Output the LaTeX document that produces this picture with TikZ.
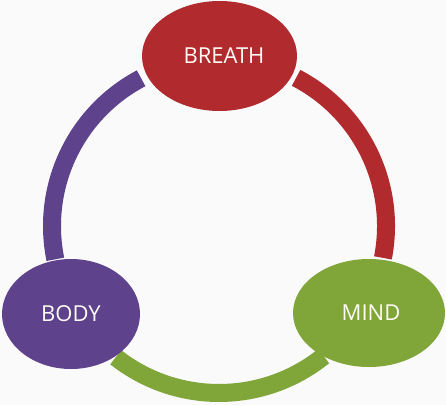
\documentclass[tikz,border=0pt]{standalone}
\usepackage{fontspec}
\setmainfont{Open Sans}
\usetikzlibrary{shapes.geometric}
\definecolor{bgc}{RGB}{250,250,250}
\definecolor{redc}{RGB}{176,42,46}
\definecolor{purc}{RGB}{94,66,140}
\definecolor{grnc}{RGB}{128,166,58}
\definecolor{txtc}{RGB}{255,252,245}
\tikzset{
  blob/.style={ellipse, inner sep=0pt, text=txtc, font=\fontsize{22}{26}\selectfont},
  ring/.style={line width=18pt, line cap=butt}
}
\begin{document}
\begin{tikzpicture}[x=1pt,y=1pt]
\fill[bgc] (0,0) rectangle (446,405);
\useasboundingbox (0,0) rectangle (446,405);
\coordinate (c) at (219,179);
% arcs (connectors)
\draw[ring, purc] ([shift={(117.8:167)}]c) arc[start angle=117.8, end angle=191.5, radius=167];
\draw[ring, redc] ([shift={(62.5:167)}]c) arc[start angle=62.5, end angle=-11, radius=167];
\draw[ring, grnc] ([shift={(231.8:167)}]c) arc[start angle=231.8, end angle=308.8, radius=167];
% nodes
\node[blob, fill=redc, minimum width=155pt, minimum height=110pt] (breath) at (219.5,349) {\hspace*{9pt}BREATH};
\node[blob, fill=purc, minimum width=138pt, minimum height=110pt] (body) at (71,91) {BODY};
\node[blob, fill=grnc, minimum width=152pt, minimum height=108pt] (mind) at (369,92) {\hspace*{4pt}MIND};
\end{tikzpicture}
\end{document}
